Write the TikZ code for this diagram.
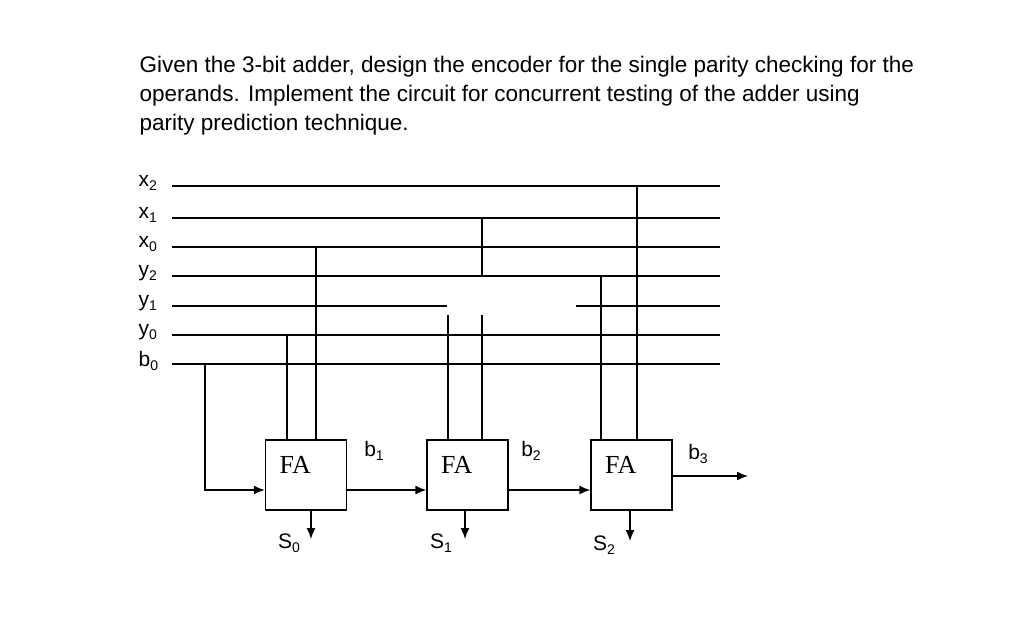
\documentclass[tikz,border=0pt]{standalone}
\usepackage{fontspec}
\setmainfont{Liberation Sans}
\newfontfamily\serifx{Liberation Serif}
\newcommand{\lsub}[1]{\raisebox{-0.35ex}{\fontsize{14}{14}\selectfont #1}}
\begin{document}
\begin{tikzpicture}[x=1pt,y=-1pt,line width=1.4pt,
  wire/.style={draw=black},
  fabox/.style={draw,minimum width=81pt,minimum height=70pt,inner sep=0pt},
  lab/.style={font=\fontsize{21}{21}\selectfont,inner sep=0pt},
  arr/.style={-{Latex[length=11pt,width=9pt]}}]
\usetikzlibrary{arrows.meta}
\useasboundingbox (0,0) rectangle (1024,627);
\node[anchor=north west,align=left,font=\fontsize{22.5}{29}\selectfont,inner sep=0pt] (title) at (139,55)
{Given the 3-bit adder, design the encoder for the single parity checking for the\\operands. Implement the circuit for concurrent testing of the adder using\\parity prediction technique.};
% input lines
\foreach \n/\t/\y in {x2/x\lsub{2}/186,x1/x\lsub{1}/218,x0/x\lsub{0}/247,y2/y\lsub{2}/276,y1/y\lsub{1}/306,y0/y\lsub{0}/335,b0/b\lsub{0}/364}{
  \node[lab,anchor=west] (l\n) at (138,\y-3) {\t};
  \coordinate (s\n) at (172,\y);
  \coordinate (e\n) at (720,\y);
}
\foreach \n in {x2,x1,x0,y2,y0,b0} \draw[wire] (s\n) -- (e\n);
\coordinate (y1a) at (447,306); \coordinate (y1b) at (576,306);
\draw[wire] (sy1) -- (y1a);
\draw[wire] (y1b) -- (ey1);
% FA boxes
\node[fabox] (fa1) at (306,475) {};
\node[fabox] (fa2) at (467.5,475) {};
\node[fabox] (fa3) at (631.5,475) {};
\foreach \f in {fa1,fa2,fa3} \node[font=\serifx\fontsize{26}{26}\selectfont,anchor=north west,inner sep=0pt] at ([xshift=14pt,yshift=-16pt]\f.north west) {FA};
% verticals
\draw[wire] (287,335) -- (287,440);
\draw[wire] (316,247) -- (316,440);
\draw[wire] (448,315) -- (448,440);
\draw[wire] (482,218) -- (482,277);
\draw[wire] (482,315) -- (482,440);
\draw[wire] (601,276) -- (601,440);
\draw[wire] (637,186) -- (637,440);
% carry
\draw[wire,arr] (205,364) -- (205,490) -- (fa1.west |- 0,490);
\draw[wire,arr] (fa1.east |- 0,490) -- (fa2.west |- 0,490);
\draw[wire,arr] (fa2.east |- 0,490) -- (fa3.west |- 0,490);
\draw[wire,arr] (fa3.east |- 0,476) -- (748,476);
\node[lab] (b1) at (374,451) {b\lsub{1}};
\node[lab] (b2) at (531,451) {b\lsub{2}};
\node[lab] (b3) at (698,454) {b\lsub{3}};
% sums
\draw[wire,arr] (311,510) -- (311,539);
\draw[wire,arr] (465,510) -- (465,539);
\draw[wire,arr] (630,510) -- (630,541);
\node[lab] (s0) at (289,543) {S\lsub{0}};
\node[lab] (s1) at (441,543) {S\lsub{1}};
\node[lab] (s2) at (604,545) {S\lsub{2}};
\end{tikzpicture}
\end{document}
